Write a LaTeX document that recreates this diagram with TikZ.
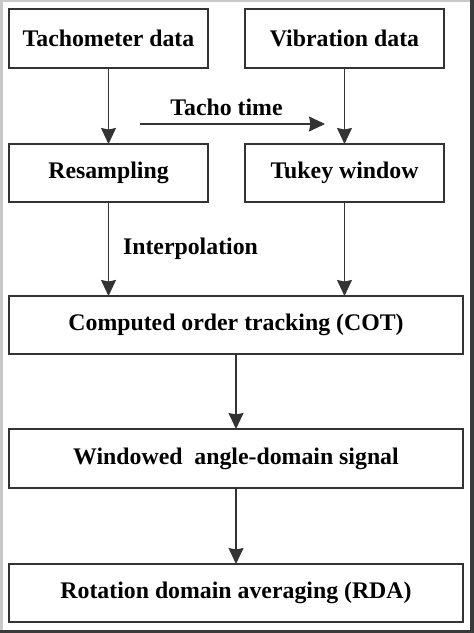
\documentclass[tikz,border=0pt]{standalone}
\usepackage{fontspec}
\setmainfont{Liberation Serif}
\usetikzlibrary{arrows.meta}
\definecolor{edge}{HTML}{333333}
\definecolor{lightframe}{HTML}{C8C8C8}
\definecolor{darkframe}{HTML}{3A3A3A}
\tikzset{
  box/.style={draw=edge, line width=1.4pt, fill=white, inner sep=0pt, outer sep=0pt,
    font=\fontsize{23.8}{28}\selectfont\bfseries},
  smallbox/.style={box, minimum width=199pt, minimum height=59pt},
  widebox/.style={box, minimum width=454pt, minimum height=58pt},
  flow/.style={draw=edge, line width=1.2pt, -{Stealth[length=16pt,width=15pt,inset=1.5pt]}},
  lbl/.style={inner sep=0pt, font=\fontsize{23.8}{28}\selectfont\bfseries}
}
\begin{document}
\begin{tikzpicture}[x=1pt,y=-1pt]
  % frame
  \fill[white] (0,0) rectangle (474,633);
  \fill[lightframe] (0,0) rectangle (2.7,633);
  \fill[lightframe] (0,0) rectangle (474,1.8);
  \fill[darkframe] (469.5,0) rectangle (474,633);
  \fill[darkframe] (0,630) rectangle (474,633);
  \useasboundingbox (0,0) rectangle (474,633);

  \node[smallbox] (tach) at (108.5,38.5) {Tachometer data};
  \node[smallbox] (vib)  at (344.5,38.5) {Vibration data};
  \node[smallbox, minimum height=58pt] (res) at (108.5,173) {Resampling};
  \node[smallbox, minimum height=58pt] (tuk) at (344.5,173) {Tukey window};
  \node[widebox] (cot) at (236,325) {Computed order tracking (COT)};
  \node[widebox, minimum height=59pt] (win) at (236,458.5) {Windowed\ \ angle-domain signal};
  \node[widebox] (rda) at (236,593) {Rotation domain averaging (RDA)};

  \coordinate (ttA) at (140,124);
  \coordinate (ttB) at (325,124);
  \node[lbl] (ttl) at (226.5,107) {Tacho time};
  \node[lbl] (intl) at (190.5,249) {Interpolation};

  \draw[flow] (tach) -- (res);
  \draw[flow] (vib) -- (tuk);
  \draw[flow] (ttA) -- (ttB);
  \draw[flow] (res.south) -- (res.south |- cot.north);
  \draw[flow] (tuk.south) -- (tuk.south |- cot.north);
  \draw[flow] (cot) -- (win);
  \draw[flow] (win) -- (rda);
\end{tikzpicture}
\end{document}
